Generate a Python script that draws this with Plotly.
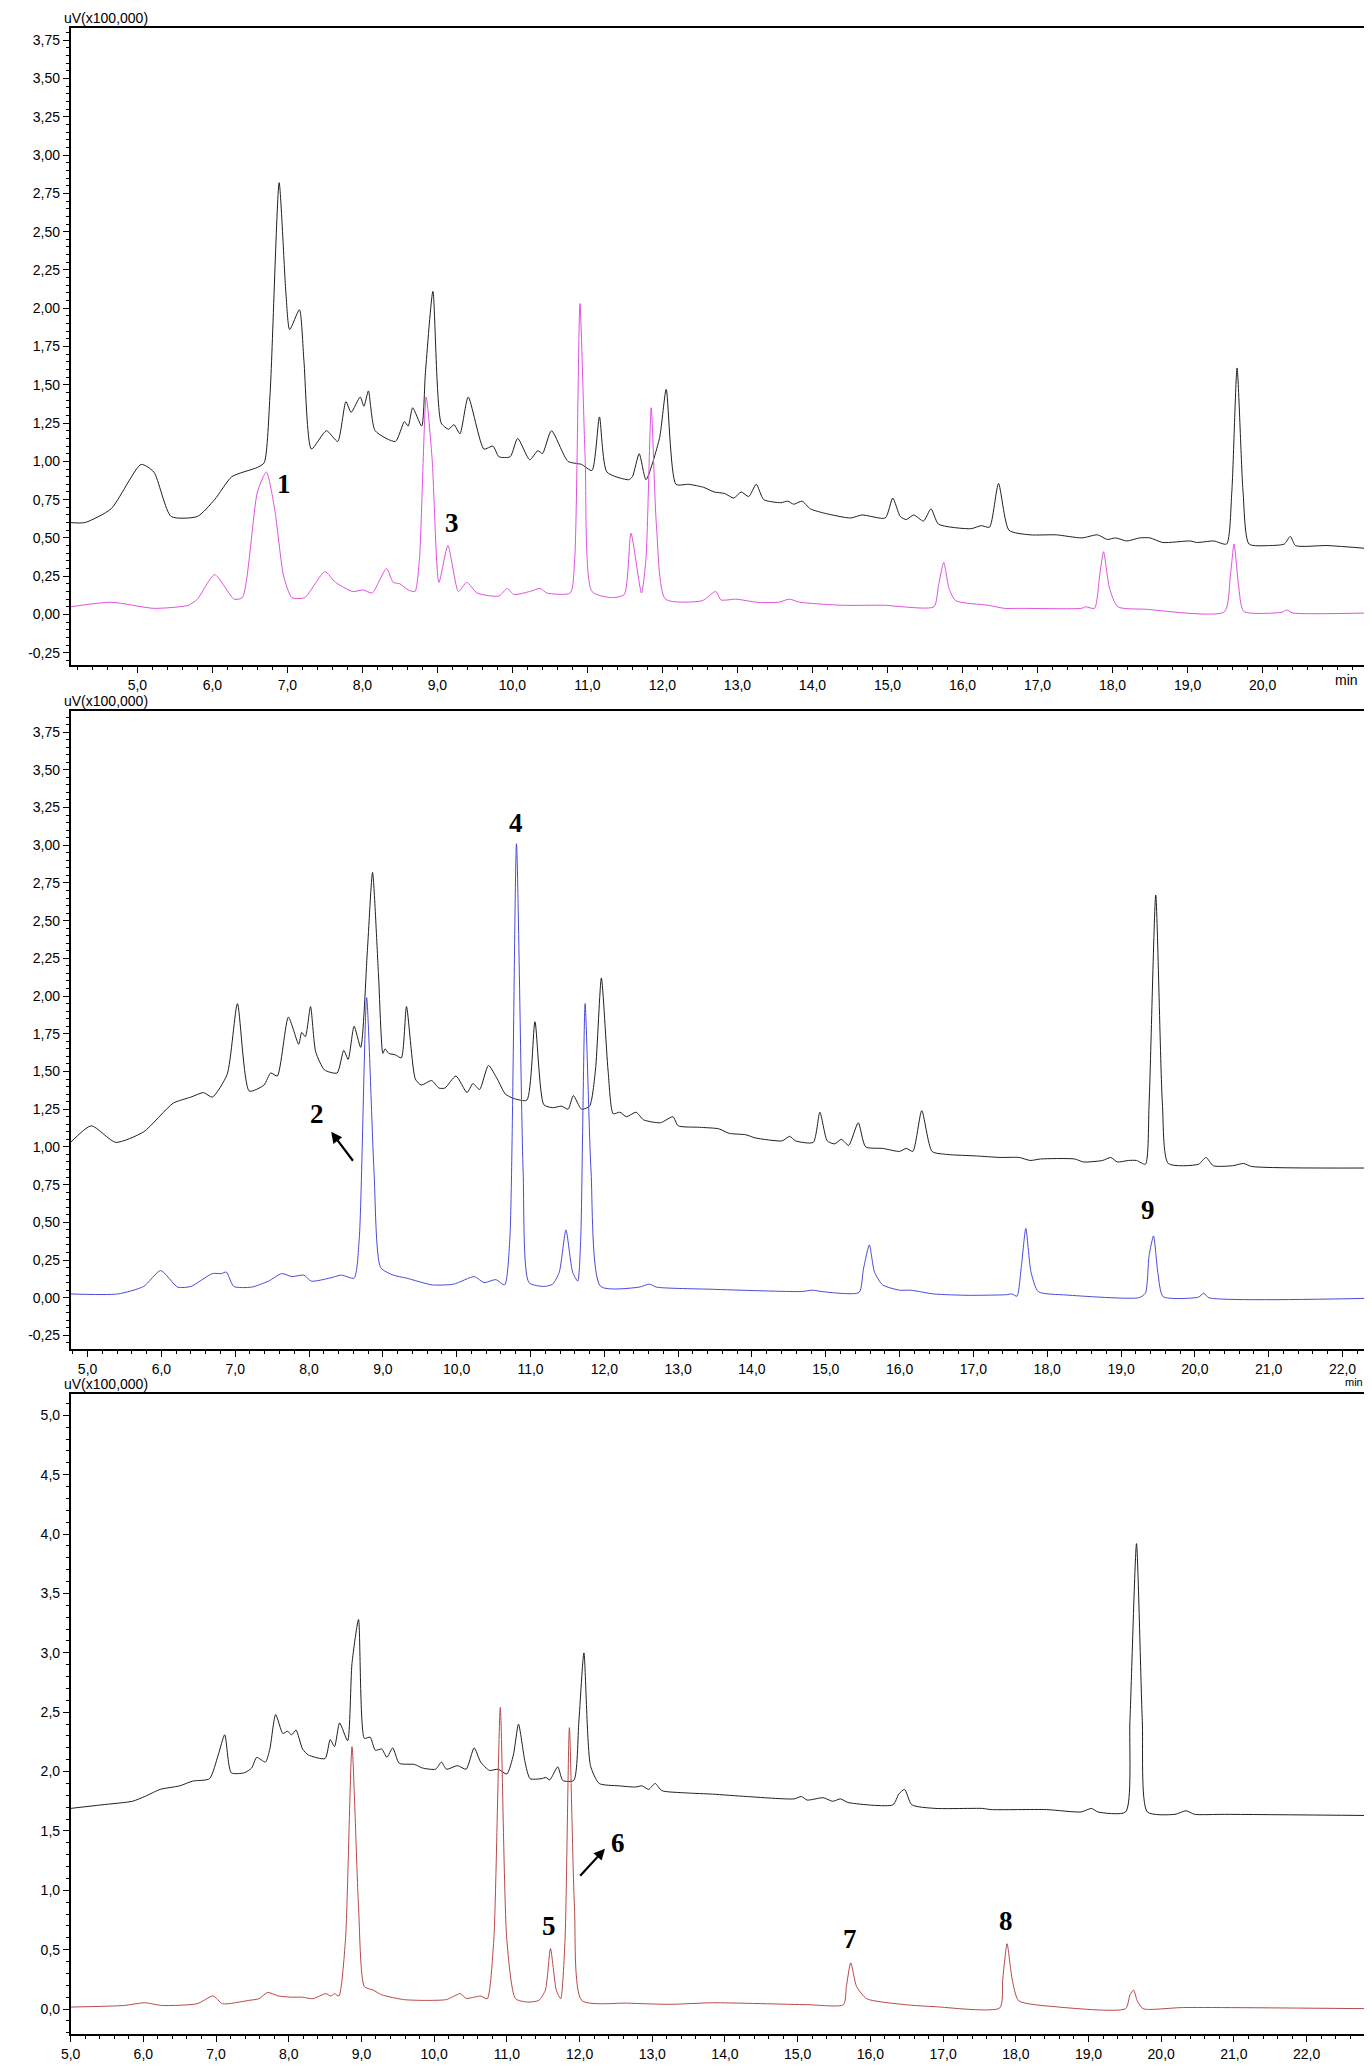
import plotly.graph_objects as go

# ---------------- Panel 1 ----------------
p1_black_t = [4.11,4.30,4.65,5.05,5.22,5.45,5.80,6.03,6.26,6.60,6.69,6.77,6.89,6.98,7.03,7.16,7.22,7.32,7.52,7.67,7.78,7.85,7.97,8.02,8.08,8.17,8.44,8.56,8.61,8.67,8.79,8.84,8.94,9.05,9.15,9.22,9.30,9.41,9.62,9.74,9.82,9.97,10.07,10.23,10.34,10.40,10.52,10.74,10.92,11.06,11.16,11.26,11.55,11.60,11.69,11.78,11.96,12.05,12.18,12.35,12.55,12.69,12.83,12.95,13.05,13.15,13.25,13.35,13.58,13.67,13.75,13.86,13.97,14.17,14.51,14.66,14.97,15.07,15.17,15.25,15.35,15.48,15.58,15.68,16.11,16.25,16.36,16.48,16.62,16.90,17.25,17.59,17.80,17.93,18.04,18.19,18.36,18.50,18.67,19.04,19.12,19.35,19.52,19.59,19.66,19.74,19.82,20.09,20.29,20.37,20.44,20.86,21.42]
p1_black_v = [0.60,0.60,0.69,0.98,0.93,0.64,0.64,0.75,0.90,0.96,0.99,1.45,2.82,2.10,1.86,1.99,1.66,1.08,1.20,1.13,1.39,1.32,1.42,1.36,1.46,1.20,1.13,1.26,1.23,1.35,1.23,1.58,2.11,1.25,1.21,1.24,1.18,1.42,1.08,1.10,1.03,1.03,1.15,1.01,1.07,1.05,1.20,1.00,0.98,0.94,1.29,0.93,0.88,0.90,1.05,0.88,1.15,1.47,0.85,0.85,0.83,0.80,0.79,0.76,0.80,0.77,0.85,0.75,0.73,0.74,0.72,0.74,0.69,0.66,0.63,0.65,0.63,0.76,0.64,0.62,0.65,0.61,0.69,0.59,0.56,0.58,0.57,0.855,0.55,0.52,0.52,0.50,0.52,0.49,0.50,0.48,0.50,0.50,0.47,0.48,0.47,0.48,0.46,0.80,1.61,0.80,0.46,0.45,0.46,0.51,0.45,0.45,0.43]
p1_mag_t = [4.11,4.65,5.22,5.68,5.80,6.03,6.29,6.40,6.60,6.72,6.83,6.95,7.06,7.23,7.50,7.64,7.87,8.01,8.13,8.32,8.41,8.50,8.61,8.70,8.76,8.85,8.93,9.02,9.14,9.28,9.39,9.53,9.82,9.93,10.02,10.23,10.37,10.46,10.77,10.83,10.90,10.97,11.06,11.32,11.49,11.58,11.72,11.78,11.85,11.92,12.04,12.53,12.71,12.78,12.98,13.26,13.55,13.69,13.83,14.40,14.97,15.20,15.62,15.68,15.75,15.82,15.91,16.34,16.56,16.79,17.59,17.64,17.76,17.83,17.88,17.96,18.07,18.44,19.49,19.57,19.62,19.68,19.75,20.26,20.32,20.40,21.42]
p1_mag_v = [0.05,0.08,0.04,0.06,0.10,0.26,0.10,0.11,0.80,0.93,0.69,0.25,0.11,0.11,0.28,0.21,0.15,0.16,0.14,0.30,0.21,0.20,0.16,0.15,0.36,1.42,1.01,0.21,0.45,0.15,0.21,0.14,0.12,0.17,0.13,0.15,0.17,0.14,0.14,0.36,2.03,1.01,0.15,0.11,0.13,0.53,0.14,0.36,1.35,0.58,0.10,0.09,0.15,0.095,0.10,0.08,0.08,0.10,0.08,0.06,0.06,0.05,0.05,0.19,0.34,0.17,0.09,0.06,0.04,0.04,0.04,0.05,0.04,0.26,0.41,0.17,0.05,0.034,0.017,0.25,0.46,0.19,0.02,0.015,0.03,0.01,0.01]

# ---------------- Panel 2 ----------------
p2_black_t = [4.76,5.05,5.38,5.76,6.16,6.40,6.57,6.69,6.89,7.03,7.19,7.39,7.48,7.57,7.72,7.86,7.90,7.95,8.02,8.09,8.21,8.38,8.47,8.53,8.61,8.70,8.79,8.86,8.94,9.00,9.03,9.08,9.17,9.25,9.32,9.44,9.52,9.66,9.76,9.84,9.99,10.14,10.22,10.31,10.43,10.55,10.66,10.78,10.95,11.06,11.18,11.30,11.42,11.51,11.58,11.69,11.80,11.88,11.96,12.05,12.12,12.21,12.30,12.43,12.53,12.76,12.93,13.00,13.29,13.55,13.69,13.92,14.04,14.41,14.51,14.59,14.83,14.92,15.02,15.12,15.21,15.31,15.44,15.54,15.77,16.00,16.09,16.18,16.30,16.44,16.64,17.04,17.36,17.62,17.77,17.91,18.37,18.49,18.75,18.86,18.95,19.10,19.21,19.33,19.38,19.47,19.56,19.64,20.05,20.15,20.25,20.51,20.66,20.77,22.36]
p2_black_v = [1.025,1.14,1.03,1.10,1.29,1.33,1.36,1.33,1.48,1.95,1.37,1.41,1.49,1.47,1.86,1.68,1.76,1.73,1.93,1.63,1.51,1.49,1.64,1.58,1.80,1.66,2.30,2.82,2.15,1.62,1.65,1.62,1.61,1.59,1.93,1.45,1.41,1.44,1.39,1.39,1.47,1.36,1.42,1.38,1.54,1.45,1.35,1.32,1.31,1.83,1.28,1.26,1.27,1.25,1.34,1.25,1.27,1.51,2.12,1.51,1.22,1.23,1.20,1.23,1.18,1.16,1.20,1.14,1.13,1.12,1.09,1.08,1.06,1.04,1.07,1.04,1.03,1.23,1.04,1.02,1.05,1.01,1.16,1.00,0.99,0.97,0.99,0.97,1.24,0.97,0.95,0.94,0.93,0.93,0.91,0.92,0.92,0.90,0.91,0.93,0.90,0.91,0.91,0.885,1.29,2.67,1.29,0.89,0.885,0.93,0.875,0.875,0.89,0.87,0.86]
p2_blue_t = [4.76,5.41,5.76,5.99,6.22,6.40,6.69,6.81,6.88,6.98,7.22,7.45,7.63,7.77,7.93,8.03,8.28,8.44,8.61,8.68,8.78,8.88,8.97,9.14,9.32,9.67,9.96,10.24,10.37,10.53,10.65,10.72,10.81,10.90,10.98,11.19,11.30,11.39,11.48,11.57,11.64,11.68,11.74,11.82,11.95,12.47,12.61,12.71,13.46,14.04,14.67,14.82,14.96,15.45,15.51,15.59,15.66,15.77,16.00,16.15,16.46,16.93,17.45,17.52,17.59,17.65,17.71,17.78,17.88,18.26,19.24,19.33,19.38,19.44,19.50,19.57,20.05,20.12,20.19,22.36]
p2_blue_v = [0.025,0.025,0.075,0.18,0.07,0.075,0.16,0.16,0.17,0.075,0.07,0.11,0.16,0.14,0.15,0.11,0.13,0.15,0.13,0.39,1.99,0.84,0.20,0.15,0.13,0.085,0.09,0.14,0.10,0.12,0.085,0.39,3.01,0.84,0.10,0.075,0.09,0.17,0.45,0.17,0.11,0.39,1.95,0.84,0.075,0.07,0.09,0.07,0.056,0.047,0.041,0.05,0.04,0.035,0.19,0.35,0.17,0.085,0.05,0.05,0.025,0.016,0.02,0.025,0.01,0.21,0.46,0.17,0.04,0.018,0.0,0.03,0.28,0.41,0.16,0.007,0.004,0.03,0.0,-0.004]

# ---------------- Panel 3 ----------------
p3_black_t = [5.0,5.43,5.85,6.02,6.23,6.50,6.68,6.91,7.03,7.12,7.21,7.39,7.49,7.56,7.68,7.74,7.82,7.92,7.98,8.04,8.10,8.19,8.27,8.50,8.57,8.63,8.70,8.81,8.87,8.96,9.04,9.12,9.19,9.28,9.35,9.43,9.52,9.73,9.84,10.02,10.10,10.17,10.32,10.44,10.55,10.64,10.76,10.88,11.00,11.09,11.16,11.25,11.32,11.47,11.54,11.59,11.70,11.77,11.92,11.99,12.06,12.15,12.27,12.54,12.77,12.86,12.95,13.04,13.13,13.48,13.83,14.30,14.95,15.05,15.13,15.35,15.48,15.59,15.69,16.31,16.39,16.47,16.57,16.89,17.37,17.54,17.66,18.42,18.90,19.04,19.13,19.51,19.57,19.66,19.74,19.81,20.19,20.34,20.46,20.87,22.9]
p3_black_v = [1.69,1.72,1.75,1.79,1.85,1.88,1.92,1.94,2.14,2.31,1.99,1.99,2.03,2.12,2.08,2.19,2.48,2.32,2.34,2.31,2.35,2.19,2.14,2.11,2.27,2.21,2.41,2.26,2.91,3.28,2.28,2.29,2.18,2.19,2.12,2.20,2.07,2.06,2.03,2.02,2.08,2.02,2.05,2.02,2.20,2.08,2.01,2.02,1.98,2.14,2.40,2.08,1.94,1.94,1.95,1.93,2.04,1.925,1.925,2.42,3.00,2.05,1.90,1.88,1.87,1.88,1.85,1.90,1.84,1.82,1.81,1.79,1.77,1.79,1.76,1.78,1.75,1.77,1.74,1.72,1.81,1.85,1.72,1.69,1.69,1.69,1.68,1.68,1.66,1.69,1.66,1.66,2.43,3.92,2.43,1.66,1.64,1.67,1.64,1.64,1.63]
p3_red_t = [5.0,5.73,6.02,6.26,6.74,6.96,7.09,7.45,7.59,7.71,7.86,8.04,8.19,8.33,8.51,8.58,8.63,8.69,8.78,8.87,8.96,9.04,9.16,9.28,9.58,9.87,10.17,10.36,10.44,10.55,10.64,10.73,10.82,10.91,11.00,11.12,11.29,11.44,11.53,11.60,11.68,11.74,11.80,11.86,11.93,12.03,12.66,13.25,13.83,15.13,15.63,15.67,15.73,15.81,15.95,16.48,16.89,17.78,17.82,17.88,17.95,18.04,18.54,19.51,19.57,19.62,19.67,19.75,20.31,22.9]
p3_red_v = [0.017,0.03,0.053,0.03,0.045,0.11,0.045,0.073,0.087,0.14,0.11,0.10,0.10,0.087,0.13,0.11,0.13,0.11,0.58,2.21,0.86,0.19,0.16,0.12,0.08,0.073,0.08,0.13,0.09,0.10,0.11,0.087,0.58,2.54,0.58,0.087,0.059,0.073,0.16,0.51,0.16,0.087,0.58,2.37,0.86,0.073,0.05,0.04,0.053,0.037,0.037,0.19,0.39,0.19,0.087,0.037,0.02,0.01,0.25,0.55,0.25,0.07,0.02,0.003,0.12,0.16,0.07,0.003,0.013,0.003]

# ticks
y12_vals = [-0.25,0,0.25,0.5,0.75,1.0,1.25,1.5,1.75,2.0,2.25,2.5,2.75,3.0,3.25,3.5,3.75]
y12_text = ["-0,25","0,00","0,25","0,50","0,75","1,00","1,25","1,50","1,75","2,00","2,25","2,50","2,75","3,00","3,25","3,50","3,75"]
y3_vals = [0,0.5,1,1.5,2,2.5,3,3.5,4,4.5,5]
y3_text = ["0,0","0,5","1,0","1,5","2,0","2,5","3,0","3,5","4,0","4,5","5,0"]
x1_vals = [5,6,7,8,9,10,11,12,13,14,15,16,17,18,19,20]
x1_text = ["5,0","6,0","7,0","8,0","9,0","10,0","11,0","12,0","13,0","14,0","15,0","16,0","17,0","18,0","19,0","20,0"]
x23_vals = x1_vals + [21, 22]
x23_text = x1_text + ["21,0", "22,0"]

fig = go.Figure()
BLACK = "#202020"
def add(t, v, color, ax):
    fig.add_trace(go.Scatter(x=t, y=v, mode="lines",
                             line=dict(color=color, width=1, shape="spline", smoothing=0.6),
                             xaxis="x" + ax, yaxis="y" + ax, showlegend=False, hoverinfo="skip"))

add(p1_black_t, p1_black_v, BLACK, "")
add(p1_mag_t, p1_mag_v, "#e050e0", "")
add(p2_black_t, p2_black_v, BLACK, "2")
add(p2_blue_t, p2_blue_v, "#4a4ad8", "2")
add(p3_black_t, p3_black_v, BLACK, "3")
add(p3_red_t, p3_red_v, "#b84848", "3")

W, H = 1372, 2066
def px(x): return x / W
def py(y): return 1 - y / H

tf = dict(family="Liberation Sans, Arial", size=14, color="black")
common = dict(showline=True, mirror=True, linecolor="black", linewidth=1.5, ticks="outside",
              ticklen=6, tickcolor="black", showgrid=False, zeroline=False, tickfont=tf,
              minor=dict(ticks="outside", ticklen=3, tickcolor="black"))

fig.update_layout(
    width=W, height=H, margin=dict(l=0, r=0, t=0, b=0),
    paper_bgcolor="white", plot_bgcolor="white",
    xaxis=dict(domain=[px(53), px(1361)], range=[4.11, 21.42], anchor="y",
               tickvals=x1_vals, ticktext=x1_text, **common),
    yaxis=dict(domain=[py(657), py(20)], range=[-0.33, 3.83], anchor="x",
               tickvals=y12_vals, ticktext=y12_text, **common),
    xaxis2=dict(domain=[px(53), px(1361)], range=[4.77, 22.36], anchor="y2",
                tickvals=x23_vals, ticktext=x23_text, **common),
    yaxis2=dict(domain=[py(1341), py(703)], range=[-0.34, 3.89], anchor="x2",
                tickvals=y12_vals, ticktext=y12_text, **common),
    xaxis3=dict(domain=[px(53), px(1364)], range=[5.0, 22.9], anchor="y3",
                tickvals=x23_vals, ticktext=x23_text, **common),
    yaxis3=dict(domain=[py(2026), py(1386)], range=[-0.21, 5.18], anchor="x3",
                tickvals=y3_vals, ticktext=y3_text, **common),
)
fig.layout.xaxis.minor.dtick = 0.2
fig.layout.xaxis2.minor.dtick = 0.2
fig.layout.xaxis3.minor.dtick = 0.2
fig.layout.yaxis.minor.dtick = 0.05
fig.layout.yaxis2.minor.dtick = 0.05
fig.layout.yaxis3.minor.dtick = 0.1

ann = []
for ytop in (20, 703, 1386):
    ann.append(dict(x=px(44), y=py(ytop), xref="paper", yref="paper", text="uV(x100,000)",
                    showarrow=False, xanchor="left", yanchor="bottom", font=tf))
ann.append(dict(x=px(1352), y=py(672), xref="paper", yref="paper", text="min",
                showarrow=False, xanchor="right", yanchor="middle", font=tf))
ann.append(dict(x=px(1357), y=py(1366), xref="paper", yref="paper", text="min",
                showarrow=False, xanchor="right", yanchor="top",
                font=dict(family="Liberation Sans", size=11, color="black")))

lf = dict(family="Liberation Serif, Times New Roman", size=27, color="black")
labels = [("1", 6.95, 0.85, ""), ("3", 9.19, 0.60, ""), ("2", 8.11, 1.22, "2"), ("4", 10.81, 3.15, "2"),
          ("9", 19.37, 0.58, "2"), ("5", 11.58, 0.70, "3"), ("6", 12.53, 1.40, "3"),
          ("7", 15.72, 0.59, "3"), ("8", 17.87, 0.74, "3")]
for txt, x, y, a in labels:
    ann.append(dict(x=x, y=y, xref="x" + a, yref="y" + a, text="<b>" + txt + "</b>",
                    showarrow=False, font=lf))
ann.append(dict(x=8.30, y=1.10, ax=8.61, ay=0.898, xref="x2", yref="y2", axref="x2", ayref="y2",
                text="", showarrow=True, arrowhead=2, arrowsize=1, arrowwidth=2.2, arrowcolor="black"))
ann.append(dict(x=12.35, y=1.35, ax=11.99, ay=1.11, xref="x3", yref="y3", axref="x3", ayref="y3",
                text="", showarrow=True, arrowhead=2, arrowsize=1, arrowwidth=2.2, arrowcolor="black"))
fig.update_layout(annotations=ann)

fig.write_html("out.html")
